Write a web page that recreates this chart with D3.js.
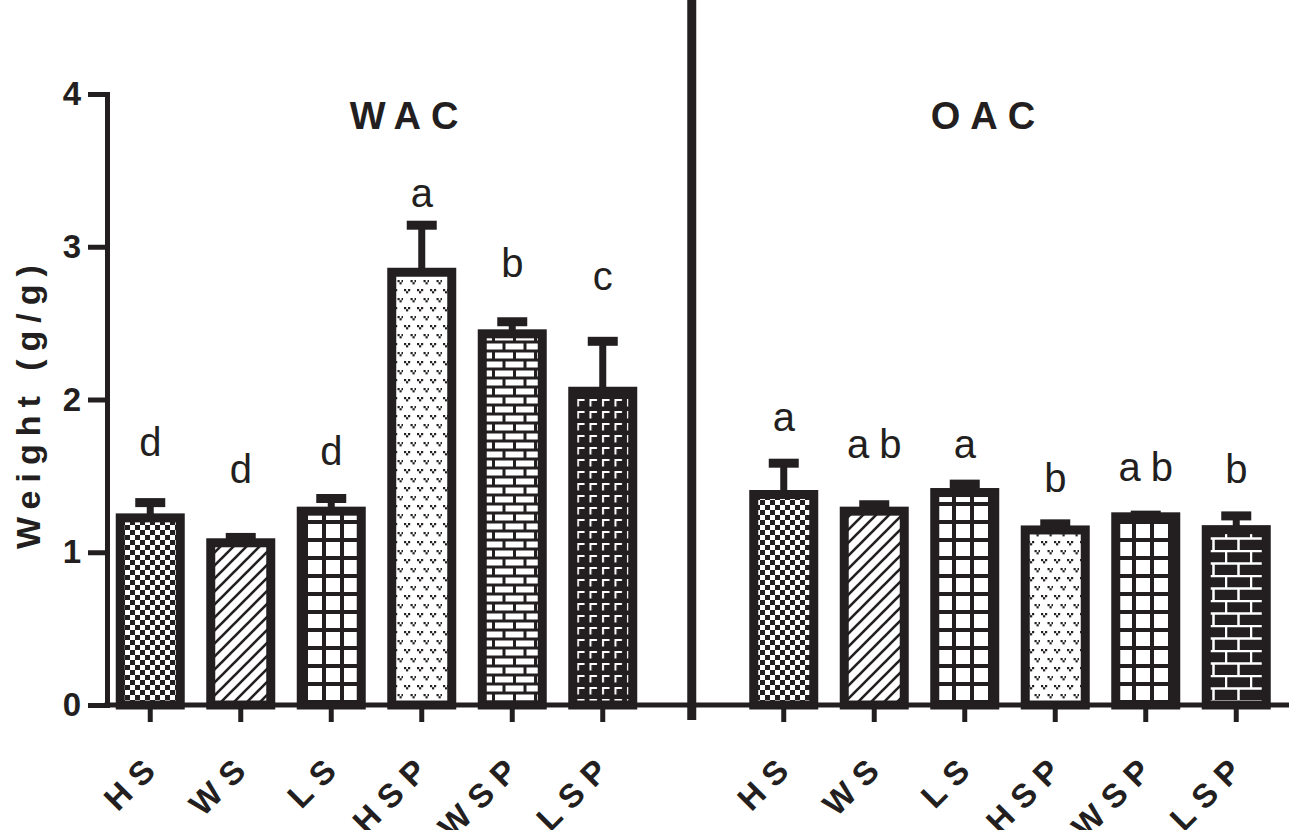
<!DOCTYPE html>
<html>
<head>
<meta charset="utf-8">
<script src="https://cdn.jsdelivr.net/npm/d3@7"></script>
<style>
  body { margin: 0; background: #fff; }
  svg text { font-family: "Liberation Sans", Arial, sans-serif; fill: #231f20; }
</style>
</head>
<body>
<svg id="chart"></svg>
<script>
// data
const groups = ["WAC", "OAC"];
const samples = ["HS", "WS", "LS", "HSP", "WSP", "LSP"];

const wacMean = [1.225, 1.062, 1.269, 2.833, 2.430, 2.054];
const wacSem = [0.10, 0.035, 0.083, 0.308, 0.079, 0.327];
const wacLetters = ["d", "d", "d", "a", "b", "c"];
const wacLetterAt = [1.627, 1.451, 1.571, 3.262, 2.80, 2.717];

const oacMean = [1.378, 1.269, 1.391, 1.146, 1.232, 1.148];
const oacSem = [0.205, 0.042, 0.055, 0.04, 0.011, 0.09];
const oacLetters = ["a", "ab", "a", "b", "ab", "b"];
const oacLetterAt = [1.796, 1.62, 1.62, 1.397, 1.464, 1.453];

const yTicks = [0, 1, 2, 3, 4];

// fill pattern for each bar
const fillFor = {
  WAC: ["checker", "diag", "grid", "vdots", "brick", "corner"],
  OAC: ["checker", "diag", "grid", "vdots", "grid", "invbrick"]
};

const ink = "#231f20";
const width = 1289, height = 830;

const svg = d3.select("#chart")
  .attr("width", width)
  .attr("height", height);

// patterns
const defs = svg.append("defs");
function pat(id, w, h) {
  const p = defs.append("pattern").attr("id", id)
    .attr("patternUnits", "userSpaceOnUse")
    .attr("width", w).attr("height", h);
  return p;
}
let p = pat("checker", 10, 10);
p.append("rect").attr("width", 10).attr("height", 10).attr("fill", "#fff");
p.append("rect").attr("width", 5).attr("height", 5).attr("fill", ink);
p.append("rect").attr("x", 5).attr("y", 5).attr("width", 5).attr("height", 5).attr("fill", ink);

p = pat("diag", 13, 13);
p.append("rect").attr("width", 13).attr("height", 13).attr("fill", "#fff");
p.append("path").attr("d", "M0,13L13,0M-6.5,6.5L6.5,-6.5M6.5,19.5L19.5,6.5")
  .attr("stroke", ink).attr("stroke-width", 2.6);

p = pat("grid", 18, 18);
p.append("rect").attr("width", 18).attr("height", 18).attr("fill", ink);
p.append("rect").attr("x", 2).attr("y", 2).attr("width", 14).attr("height", 14).attr("fill", "#fff");

p = pat("vdots", 13, 18);
p.append("rect").attr("width", 13).attr("height", 18).attr("fill", "#fff");
[[1, 1], [5, 1], [3, 3.2], [7.5, 10], [11.5, 10], [9.5, 12.2]].forEach(([a, b]) => {
  p.append("rect").attr("x", a).attr("y", b).attr("width", 2.2).attr("height", 2.2).attr("fill", ink);
});

p = pat("brick", 21, 18);
p.append("rect").attr("width", 21).attr("height", 18).attr("fill", ink);
[[1.5, 1.5], [12, 10.5], [-9, 10.5]].forEach(([a, b]) => {
  p.append("rect").attr("x", a).attr("y", b).attr("width", 18).attr("height", 6).attr("fill", "#fff");
});

p = pat("corner", 12.5, 12);
p.append("rect").attr("width", 12.5).attr("height", 12).attr("fill", ink);
p.append("path").attr("d", "M3,10.5V4H9.5").attr("fill", "none")
  .attr("stroke", "#fff").attr("stroke-width", 2);

p = pat("invbrick", 25, 25);
p.append("rect").attr("width", 25).attr("height", 25).attr("fill", ink);
p.append("path").attr("d", "M0,1H25M0,13.5H25M1,1V13.5M13.5,13.5V25")
  .attr("stroke", "#fff").attr("stroke-width", 2.5);

// rows
const rows = [];
groups.forEach(g => {
  const mean = g === "WAC" ? wacMean : oacMean;
  const sem = g === "WAC" ? wacSem : oacSem;
  const lett = g === "WAC" ? wacLetters : oacLetters;
  const at = g === "WAC" ? wacLetterAt : oacLetterAt;
  samples.forEach((s, i) => {
    rows.push({ key: g + "-" + s, group: g, sample: s, mean: mean[i], sem: sem[i],
      letter: lett[i], letterAt: at[i], fill: fillFor[g][i] });
  });
});

const keys = rows.filter(d => d.group === "WAC").map(d => d.key)
  .concat(["gap"], rows.filter(d => d.group === "OAC").map(d => d.key));

const x = d3.scaleBand().domain(keys).range([105, 1281.5]).padding(0);
const y = d3.scaleLinear().domain([0, 4]).range([705, 94]);
const cx = k => x(k) + x.bandwidth() / 2;

// divider between the two panels
svg.append("line")
  .attr("x1", cx("gap") - 1.5).attr("x2", cx("gap") - 1.5)
  .attr("y1", 0).attr("y2", 720)
  .attr("stroke", ink).attr("stroke-width", 9);

// error bars (under the bars)
const err = svg.append("g");
err.selectAll(".stem").data(rows).join("line")
  .attr("x1", d => cx(d.key)).attr("x2", d => cx(d.key))
  .attr("y1", d => y(d.mean)).attr("y2", d => y(d.mean + d.sem))
  .attr("stroke", ink).attr("stroke-width", 7);
err.selectAll(".cap").data(rows).join("line")
  .attr("x1", d => cx(d.key) - 15).attr("x2", d => cx(d.key) + 15)
  .attr("y1", d => y(d.mean + d.sem)).attr("y2", d => y(d.mean + d.sem))
  .attr("stroke", ink).attr("stroke-width", 9);

// bars
svg.append("g").selectAll("rect").data(rows).join("rect")
  .attr("x", d => cx(d.key) - 30)
  .attr("width", 60)
  .attr("y", d => y(d.mean))
  .attr("height", d => y(0) - y(d.mean))
  .attr("fill", d => `url(#${d.fill})`)
  .attr("stroke", ink).attr("stroke-width", 9);

// significance letters
svg.append("g").selectAll("text").data(rows).join("text")
  .attr("x", d => cx(d.key) + (d.letter.length > 1 ? 5 : 0))
  .attr("y", d => y(d.letterAt))
  .attr("text-anchor", "middle")
  .attr("font-size", 40)
  .style("letter-spacing", d => d.letter.length > 1 ? "10px" : "0px")
  .text(d => d.letter);

// y axis
const yAxis = svg.append("g")
  .attr("transform", "translate(107,0)")
  .call(d3.axisLeft(y).tickValues(yTicks).tickFormat(d3.format("d"))
    .tickSize(19).tickSizeOuter(0).tickPadding(7));
yAxis.select(".domain").attr("stroke", ink).attr("stroke-width", 5).attr("stroke-linecap", "square");
yAxis.selectAll(".tick line").attr("stroke", ink).attr("stroke-width", 5);
yAxis.selectAll(".tick text")
  .attr("font-size", 33).attr("font-weight", "bold")
  .attr("font-family", "Liberation Sans, Arial, sans-serif").attr("fill", ink);

// x axis
const xAxis = svg.append("g")
  .attr("transform", "translate(0,705)")
  .call(d3.axisBottom(x).tickValues(keys.filter(k => k !== "gap")).tickSize(17).tickSizeOuter(0));
xAxis.select(".domain").remove();
xAxis.selectAll(".tick line").attr("stroke", ink).attr("stroke-width", 5);
xAxis.selectAll(".tick text").remove();
svg.append("line")
  .attr("x1", 104.5).attr("x2", width)
  .attr("y1", 705).attr("y2", 705)
  .attr("stroke", ink).attr("stroke-width", 5);

// rotated category labels
svg.append("g").selectAll("text").data(rows).join("text")
  .attr("transform", d => `translate(${cx(d.key) + 14},${766}) rotate(-45)`)
  .attr("text-anchor", "end")
  .attr("font-size", 33).attr("font-weight", "bold")
  .style("letter-spacing", "10px")
  .text(d => d.sample);

// panel titles
const titleX = { WAC: 404, OAC: 983 };
svg.append("g").selectAll("text").data(groups).join("text")
  .attr("x", d => titleX[d] + 5).attr("y", 129)
  .attr("text-anchor", "middle")
  .attr("font-size", 38).attr("font-weight", "bold")
  .style("letter-spacing", "10px")
  .text(d => d);

// y title
svg.append("text")
  .attr("transform", "translate(40,403) rotate(-90)")
  .attr("text-anchor", "middle")
  .attr("font-size", 34).attr("font-weight", "bold")
  .style("letter-spacing", "8px")
  .text("Weight (g/g)");
</script>
</body>
</html>
